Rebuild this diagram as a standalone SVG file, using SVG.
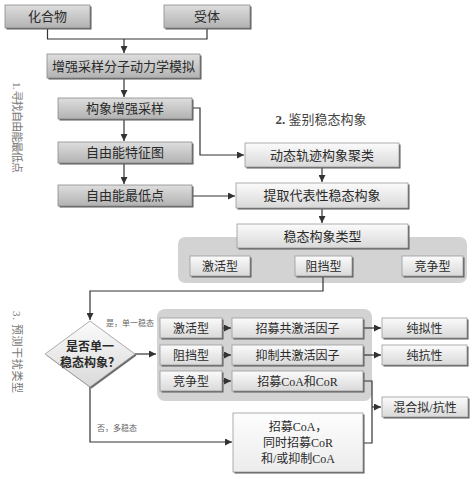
<svg xmlns="http://www.w3.org/2000/svg" width="474" height="479" viewBox="0 0 474 479">
<defs>
<linearGradient id="gDark" x1="0" y1="0" x2="0" y2="1">
<stop offset="0" stop-color="#dedede"/><stop offset="1" stop-color="#b2b2b2"/>
</linearGradient>
<linearGradient id="gLight" x1="0" y1="0" x2="0" y2="1">
<stop offset="0" stop-color="#fbfbfb"/><stop offset="1" stop-color="#d9d9d9"/>
</linearGradient>
<linearGradient id="gWhite" x1="0" y1="0" x2="0" y2="1">
<stop offset="0" stop-color="#fdfdfd"/><stop offset="1" stop-color="#ececec"/>
</linearGradient>
<marker id="arr" markerUnits="userSpaceOnUse" markerWidth="7" markerHeight="7" refX="7" refY="3.5" orient="auto">
<path d="M0,0 L7,3.5 L0,7 z" fill="#333"/>
</marker>
<style>
.sh{fill:#5a5a5a}
.bd{fill:url(#gDark);stroke:#8a8a8a;stroke-width:0.8}
.bl{fill:url(#gLight);stroke:#9a9a9a;stroke-width:0.8}
.bw{fill:url(#gWhite);stroke:#9a9a9a;stroke-width:0.8}
.t{font-family:"Liberation Serif","Noto Sans CJK SC",serif;font-size:13px;fill:#2a2a2a;text-anchor:middle}
.ts{font-family:"Liberation Serif","Noto Sans CJK SC",serif;font-size:12px;fill:#2a2a2a;text-anchor:middle}
.lab{font-family:"Noto Sans CJK SC",sans-serif;font-size:8px;fill:#666}
.side{font-family:"Liberation Serif","Noto Sans CJK SC",serif;font-size:11px;fill:#777}
.c{fill:none;stroke:#333;stroke-width:1.2}
.panel{fill:#d3d3d3}
</style>
</defs>
<rect width="474" height="479" fill="#ffffff"/>

<g id="panels">
<rect class="panel" x="178" y="237" width="289" height="46" rx="7"/>
<rect class="panel" x="157" y="309" width="215" height="92" rx="8"/>
</g>

<g id="connectors">
<path class="c" d="M47.5 28 V39 H207 V28"/>
<path class="c" d="M124 39 V53" marker-end="url(#arr)"/>
<path class="c" d="M124 78 V97" marker-end="url(#arr)"/>
<path class="c" d="M124 119 V141" marker-end="url(#arr)"/>
<path class="c" d="M124 163 V184" marker-end="url(#arr)"/>
<path class="c" d="M192 108 H200 V155 H244" marker-end="url(#arr)"/>
<path class="c" d="M322 167 V182" marker-end="url(#arr)"/>
<path class="c" d="M192 196 H235" marker-end="url(#arr)"/>
<path class="c" d="M322 209 V223" marker-end="url(#arr)"/>
<path class="c" d="M323 277 V291 H90 V320" marker-end="url(#arr)"/>
<path class="c" d="M135 354 H156" marker-end="url(#arr)"/>
<path class="c" d="M222 328 H231" marker-end="url(#arr)"/>
<path class="c" d="M222 355 H231" marker-end="url(#arr)"/>
<path class="c" d="M222 381 H231" marker-end="url(#arr)"/>
<path class="c" d="M363 328 H381" marker-end="url(#arr)"/>
<path class="c" d="M363 355 H381" marker-end="url(#arr)"/>
<path class="c" d="M363 381 H372 V443 H363"/>
<path class="c" d="M372 407 H381" marker-end="url(#arr)"/>
<path class="c" d="M90 387 V442 H232" marker-end="url(#arr)"/>
<text class="lab" x="106" y="326">是，单一稳态</text>
<text class="lab" x="97" y="431">否，多稳态</text>
</g>

<g id="side-labels">
<text class="side" transform="translate(13,82) rotate(90)" textLength="91" lengthAdjust="spacing">1. 寻找自由能最低点</text>
<text class="side" transform="translate(13,311) rotate(90)" textLength="82" lengthAdjust="spacing">3. 预测干扰类型</text>
<text x="321" y="124" style="font-family:'Liberation Serif','Noto Sans CJK SC',serif;font-size:13px;fill:#444;text-anchor:middle"><tspan font-weight="bold">2.</tspan> 鉴别稳态构象</text>
</g>

<g id="n-compound"><rect class="sh" x="6.5" y="6.5" width="85" height="23"/><rect class="bd" x="5" y="5" width="85" height="23"/><text class="t" x="47.5" y="21">化合物</text></g>
<g id="n-receptor"><rect class="sh" x="165.5" y="6.5" width="86" height="23"/><rect class="bd" x="164" y="5" width="86" height="23"/><text class="t" x="207" y="21">受体</text></g>
<g id="n-md"><rect class="sh" x="48.5" y="55.5" width="153" height="24"/><rect class="bd" x="47" y="54" width="153" height="24"/><text class="t" x="123.5" y="70.5">增强采样分子动力学模拟</text></g>
<g id="n-sampling"><rect class="sh" x="59.5" y="99.5" width="134" height="21"/><rect class="bd" x="58" y="98" width="134" height="21"/><text class="t" x="125" y="113">构象增强采样</text></g>
<g id="n-fel"><rect class="sh" x="59.5" y="143.5" width="134" height="21"/><rect class="bd" x="58" y="142" width="134" height="21"/><text class="t" x="125" y="157">自由能特征图</text></g>
<g id="n-min"><rect class="sh" x="59.5" y="186.5" width="134" height="21"/><rect class="bd" x="58" y="185" width="134" height="21"/><text class="t" x="125" y="200">自由能最低点</text></g>
<g id="n-cluster"><rect class="sh" x="246.5" y="144.5" width="154" height="24"/><rect class="bl" x="245" y="143" width="154" height="24"/><text class="t" x="322" y="159.5">动态轨迹构象聚类</text></g>
<g id="n-extract"><rect class="sh" x="237.5" y="184.5" width="172" height="25"/><rect class="bl" x="236" y="183" width="172" height="25"/><text class="t" x="322" y="200">提取代表性稳态构象</text></g>
<g id="n-types"><rect class="sh" x="238.5" y="225.5" width="171" height="24"/><rect class="bl" x="237" y="224" width="171" height="24"/><text class="t" x="322.5" y="240.5">稳态构象类型</text></g>
<g id="n-t-act"><rect class="sh" x="191.5" y="257.5" width="60" height="20"/><rect class="bl" x="190" y="256" width="60" height="20"/><text class="ts" x="220" y="270.5">激活型</text></g>
<g id="n-t-blk"><rect class="sh" x="296.5" y="257.5" width="57" height="20"/><rect class="bl" x="295" y="256" width="57" height="20"/><text class="ts" x="323.5" y="270.5">阻挡型</text></g>
<g id="n-t-cmp"><rect class="sh" x="403.5" y="257.5" width="61" height="20"/><rect class="bl" x="402" y="256" width="61" height="20"/><text class="ts" x="432.5" y="270.5">竞争型</text></g>

<g id="n-decision">
<polygon points="91.5,322.5 136.5,355.5 91.5,388.5 46.5,355.5" fill="#6a6a6a"/>
<polygon points="90,321 135,354 90,387 45,354" fill="url(#gLight)" stroke="#9a9a9a" stroke-width="0.8"/>
<text class="ts" x="90" y="351" font-weight="bold">是否单一</text>
<text class="ts" x="90" y="367" font-weight="bold">稳态构象？</text>
</g>

<g id="n-r-act"><rect class="sh" x="161.5" y="319.5" width="62" height="20"/><rect class="bl" x="160" y="318" width="62" height="20"/><text class="ts" x="191" y="332.5">激活型</text></g>
<g id="n-r-blk"><rect class="sh" x="161.5" y="346.5" width="62" height="20"/><rect class="bl" x="160" y="345" width="62" height="20"/><text class="ts" x="191" y="359.5">阻挡型</text></g>
<g id="n-r-cmp"><rect class="sh" x="161.5" y="372.5" width="62" height="20"/><rect class="bl" x="160" y="371" width="62" height="20"/><text class="ts" x="191" y="385.5">竞争型</text></g>
<g id="n-m-act"><rect class="sh" x="233.5" y="319.5" width="131" height="20"/><rect class="bl" x="232" y="318" width="131" height="20"/><text class="ts" x="297.5" y="332.5">招募共激活因子</text></g>
<g id="n-m-blk"><rect class="sh" x="233.5" y="346.5" width="131" height="20"/><rect class="bl" x="232" y="345" width="131" height="20"/><text class="ts" x="297.5" y="359.5">抑制共激活因子</text></g>
<g id="n-m-cmp"><rect class="sh" x="233.5" y="372.5" width="131" height="20"/><rect class="bl" x="232" y="371" width="131" height="20"/><text class="ts" x="297.5" y="385.5">招募CoA和CoR</text></g>
<g id="n-agonist"><rect class="sh" x="383.5" y="319.5" width="85" height="20"/><rect class="bl" x="382" y="318" width="85" height="20"/><text class="ts" x="424.5" y="332.5">纯拟性</text></g>
<g id="n-antagonist"><rect class="sh" x="383.5" y="346.5" width="85" height="20"/><rect class="bl" x="382" y="345" width="85" height="20"/><text class="ts" x="424.5" y="359.5">纯抗性</text></g>
<g id="n-mixed"><rect class="sh" x="383.5" y="398.5" width="86" height="20"/><rect class="bl" x="382" y="397" width="86" height="20"/><text class="ts" x="425" y="411.5">混合拟/抗性</text></g>
<g id="n-multi"><rect class="sh" x="234.5" y="414.5" width="130" height="59"/><rect class="bw" x="233" y="413" width="130" height="59"/>
<text class="ts" x="298" y="431">招募CoA，</text>
<text class="ts" x="298" y="447">同时招募CoR</text>
<text class="ts" x="298" y="463">和/或抑制CoA</text>
</g>
</svg>
